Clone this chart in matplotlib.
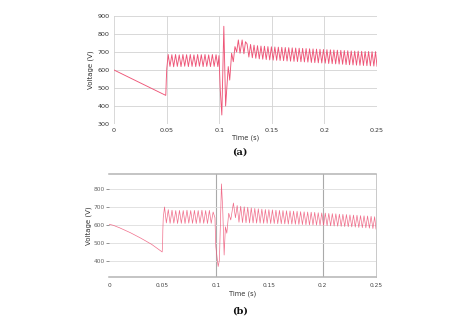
import numpy as np
import matplotlib
matplotlib.use("Agg")
import matplotlib.pyplot as plt

# ---------------- data: panel (a) ----------------
a_ramp_t = [0.0, 0.0492, 0.0494, 0.0497, 0.0502]
a_ramp_v = [600, 459, 489, 544, 609]

a_osc1_t = [0.0515, 0.0532, 0.0550, 0.0567, 0.0585, 0.0602, 0.0620, 0.0637,
            0.0655, 0.0672, 0.0690, 0.0707, 0.0725, 0.0742, 0.0760, 0.0777,
            0.0795, 0.0812, 0.0830, 0.0847, 0.0865, 0.0882, 0.0900, 0.0917,
            0.0935, 0.0952, 0.0970, 0.0987, 0.0998]
a_osc1_v = [686, 620, 685, 618, 686, 620, 684, 619,
            686, 621, 685, 619, 686, 620, 684, 619,
            686, 621, 685, 619, 686, 620, 684, 619,
            686, 620, 685, 619, 680]

a_tr_t = [0.1010, 0.1025, 0.1044, 0.1061, 0.1086, 0.1100, 0.1118, 0.1134,
          0.1150, 0.1166, 0.1182, 0.1198, 0.1218, 0.1235, 0.1250]
a_tr_v = [490, 350, 843, 400, 619, 544, 693, 646,
          730, 700, 767, 693, 767, 690, 757]

a_pk_t = [0.1265, 0.1298, 0.1331, 0.1364, 0.1397, 0.1430, 0.1463, 0.1496,
          0.1529, 0.1562, 0.1595, 0.1628, 0.1661, 0.1694, 0.1727, 0.1760,
          0.1793, 0.1826, 0.1859, 0.1892, 0.1925, 0.1958, 0.1991, 0.2024,
          0.2057, 0.2090, 0.2123, 0.2156, 0.2189, 0.2222, 0.2255, 0.2288,
          0.2321, 0.2354, 0.2387, 0.2420, 0.2453, 0.2486]
a_pk_v = [745, 742, 738, 735, 733, 732, 730, 729, 728, 727, 726, 725, 724,
          723, 722, 721, 720, 719, 718, 717, 716, 715, 714, 713, 712, 711,
          710, 709, 708, 707, 706, 705, 705, 704, 703, 703, 702, 702]
a_tg_t = [0.1282, 0.1315, 0.1348, 0.1381, 0.1414, 0.1447, 0.1480, 0.1513,
          0.1546, 0.1579, 0.1612, 0.1645, 0.1678, 0.1711, 0.1744, 0.1777,
          0.1810, 0.1843, 0.1876, 0.1909, 0.1942, 0.1975, 0.2008, 0.2041,
          0.2074, 0.2107, 0.2140, 0.2173, 0.2206, 0.2239, 0.2272, 0.2305,
          0.2338, 0.2371, 0.2404, 0.2437, 0.2470, 0.2500]
a_tg_v = [672, 668, 665, 662, 660, 658, 656, 655, 654, 653, 652, 650, 649,
          648, 647, 646, 645, 644, 642, 641, 640, 639, 638, 636, 635, 634,
          633, 632, 630, 629, 628, 627, 626, 625, 624, 623, 622, 621]

# ---------------- data: panel (b) ----------------
b_ramp_t = [0.0, 0.004, 0.010, 0.020, 0.030, 0.040, 0.0498, 0.0502, 0.0504, 0.0508]
b_ramp_v = [604, 598, 584, 557, 526, 492, 450, 495, 570, 640]

b_osc1_t = [0.0520, 0.0537, 0.0555, 0.0572, 0.0590, 0.0607, 0.0625, 0.0642,
            0.0660, 0.0677, 0.0695, 0.0712, 0.0730, 0.0747, 0.0765, 0.0782,
            0.0800, 0.0817, 0.0835, 0.0852, 0.0870, 0.0887, 0.0905, 0.0922,
            0.0940, 0.0957, 0.0975, 0.0992]
b_osc1_v = [700, 611, 685, 609, 682, 610, 680, 608,
            681, 609, 680, 608, 682, 610, 680, 609,
            681, 608, 680, 610, 682, 609, 680, 608,
            681, 609, 672, 640]

b_tr_t = [0.1000, 0.1022, 0.1034, 0.1053, 0.1065, 0.1078, 0.1090, 0.1103,
          0.1121, 0.1140, 0.1165, 0.1184]
b_tr_v = [480, 369, 406, 828, 683, 433, 590, 554,
          665, 628, 722, 640]

b_pk_t = [0.1200, 0.1233, 0.1266, 0.1299, 0.1332, 0.1365, 0.1398, 0.1431,
          0.1464, 0.1497, 0.1530, 0.1563, 0.1596, 0.1629, 0.1662, 0.1695,
          0.1728, 0.1761, 0.1794, 0.1827, 0.1860, 0.1893, 0.1926, 0.1959,
          0.1992, 0.2025, 0.2058, 0.2091, 0.2124, 0.2157, 0.2190, 0.2223,
          0.2256, 0.2289, 0.2322, 0.2355, 0.2388, 0.2421, 0.2454, 0.2487]
b_pk_v = [708, 704, 701, 698, 695, 692, 690, 688, 686, 685, 684, 682, 681,
          680, 679, 678, 677, 676, 674, 673, 672, 671, 670, 668, 667, 666,
          664, 663, 662, 660, 659, 658, 656, 655, 654, 652, 651, 650, 648, 646]
b_tg_t = [0.1217, 0.1250, 0.1283, 0.1316, 0.1349, 0.1382, 0.1415, 0.1448,
          0.1481, 0.1514, 0.1547, 0.1580, 0.1613, 0.1646, 0.1679, 0.1712,
          0.1745, 0.1778, 0.1811, 0.1844, 0.1877, 0.1910, 0.1943, 0.1976,
          0.2009, 0.2042, 0.2075, 0.2108, 0.2141, 0.2174, 0.2207, 0.2240,
          0.2273, 0.2306, 0.2339, 0.2372, 0.2405, 0.2438, 0.2471, 0.2500]
b_tg_v = [615, 613, 612, 611, 611, 610, 610, 609, 609, 608, 608, 607, 607,
          606, 605, 605, 604, 603, 602, 601, 600, 600, 599, 598, 597, 596,
          595, 594, 593, 592, 591, 590, 589, 588, 586, 585, 584, 582, 580, 577]

x_ticks = [0, 0.05, 0.1, 0.15, 0.2, 0.25]
x_labels = ["0", "0.05", "0.1", "0.15", "0.2", "0.25"]
a_yticks = [300, 400, 500, 600, 700, 800, 900]
b_yticks = [400, 500, 600, 700, 800]


def interleave(pt, pv, tt, tv):
    t = np.empty(len(pt) + len(tt))
    v = np.empty(len(pv) + len(tv))
    t[0::2], t[1::2] = pt, tt
    v[0::2], v[1::2] = pv, tv
    return list(t), list(v)


a_ss_t, a_ss_v = interleave(a_pk_t, a_pk_v, a_tg_t, a_tg_v)
b_ss_t, b_ss_v = interleave(b_pk_t, b_pk_v, b_tg_t, b_tg_v)

a_t = a_ramp_t + a_osc1_t + a_tr_t + a_ss_t
a_v = a_ramp_v + a_osc1_v + a_tr_v + a_ss_v
b_t = b_ramp_t + b_osc1_t + b_tr_t + b_ss_t
b_v = b_ramp_v + b_osc1_v + b_tr_v + b_ss_v

line_col = "#ee5577"

fig = plt.figure(figsize=(4.74, 3.24), dpi=100)

# ---------------- panel (a) ----------------
axa = fig.add_axes([114 / 474, 1 - 124 / 324, 263 / 474, 108 / 324])
axa.plot(a_t, a_v, color=line_col, lw=0.65)
axa.set_xlim(0, 0.25)
axa.set_ylim(300, 900)
axa.set_xticks(x_ticks)
axa.set_xticklabels(x_labels)
axa.set_yticks(a_yticks)
for s in axa.spines.values():
    s.set_visible(False)
axa.grid(True, color="#d2d2d2", lw=0.6)
axa.tick_params(axis="both", length=0, labelsize=4.6, colors="#333333", pad=3)
axa.set_xlabel("Time (s)", fontsize=4.8, color="#333333", labelpad=1)
axa.set_ylabel("Voltage (V)", fontsize=5, color="#333333", labelpad=3)
axa.set_axisbelow(True)

fig.text(240 / 474, 1 - 152 / 324, "(a)", ha="center", va="center",
         fontsize=7, fontweight="bold", family="DejaVu Serif", color="#111111")

# ---------------- panel (b) ----------------
axb = fig.add_axes([109 / 474, 1 - 277 / 324, 267 / 474, 103 / 324])
axb.plot(b_t, b_v, color=line_col, lw=0.5, alpha=0.85)
axb.set_xlim(0, 0.25)
axb.set_ylim(311, 883)
axb.set_xticks(x_ticks)
axb.set_xticklabels(x_labels)
axb.set_yticks(b_yticks)
axb.spines["left"].set_visible(False)
axb.spines["right"].set_color("#c0c0c0")
axb.spines["right"].set_linewidth(0.6)
for k in ("top", "bottom"):
    axb.spines[k].set_color("#b4b4b4")
    axb.spines[k].set_linewidth(1.1)
axb.yaxis.grid(True, color="#dddddd", lw=0.6)
for xv in [0.1, 0.2]:
    axb.axvline(xv, color="#aaaaaa", lw=0.8, zorder=0)
axb.tick_params(axis="y", length=2, width=0.5, colors="#666666", labelsize=4.2, pad=1)
axb.tick_params(axis="x", length=0, colors="#444444", labelsize=4.2, pad=4)
axb.set_xlabel("Time (s)", fontsize=4.8, color="#333333", labelpad=2)
axb.set_ylabel("Voltage (V)", fontsize=5, color="#333333", labelpad=1)
axb.set_axisbelow(True)

fig.text(240 / 474, 1 - 311 / 324, "(b)", ha="center", va="center",
         fontsize=7, fontweight="bold", family="DejaVu Serif", color="#111111")

fig.savefig("out.png", dpi=100)
